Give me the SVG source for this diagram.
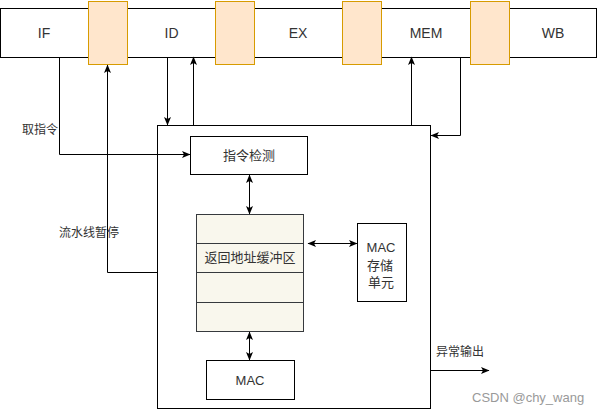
<svg xmlns="http://www.w3.org/2000/svg" width="598" height="411" viewBox="0 0 598 411">
<defs>
<marker id="ah" markerWidth="9" markerHeight="8" refX="8" refY="4" orient="auto-start-reverse" markerUnits="userSpaceOnUse">
<path d="M0,0.5 L8.5,4 L0,7.5 L2,4 z" fill="#000"/>
</marker>
<style>
.box{fill:#fff;stroke:#000;stroke-width:1}
.reg{fill:#ffe6cc;stroke:#d79b00;stroke-width:1}
.buf{fill:#f9f7ed;stroke:#36393d;stroke-width:1}
.lat{font-family:"Liberation Sans",Arial,sans-serif;fill:#333}
.cjk{font-family:"Liberation Sans","Noto Sans CJK SC",sans-serif;fill:#333}
.ln{fill:none;stroke:#000;stroke-width:1}
</style>
</defs>
<g id="pipeline">
<rect class="box" x="0.5" y="8.5" width="596" height="49"/>
<text class="lat" x="44" y="38" font-size="14" text-anchor="middle">IF</text>
<text class="lat" x="171.5" y="38" font-size="14" text-anchor="middle">ID</text>
<text class="lat" x="298" y="38" font-size="14" text-anchor="middle">EX</text>
<text class="lat" x="426" y="38" font-size="14" text-anchor="middle">MEM</text>
<text class="lat" x="553" y="38" font-size="14" text-anchor="middle">WB</text>
</g>
<g id="reg1"><rect class="reg" x="88.5" y="1.5" width="39" height="63"/></g>
<g id="reg2"><rect class="reg" x="215.5" y="1.5" width="39" height="63"/></g>
<g id="reg3"><rect class="reg" x="342.5" y="1.5" width="39" height="63"/></g>
<g id="reg4"><rect class="reg" x="470.5" y="1.5" width="39" height="63"/></g>
<g id="unit"><rect class="box" x="157.5" y="125.5" width="273" height="283"/></g>
<g id="detect">
<rect class="box" x="190.5" y="136.5" width="117" height="38"/>
<text class="cjk" x="249" y="160" font-size="13" text-anchor="middle">指令检测</text>
</g>
<g id="buffer">
<rect class="buf" x="196.5" y="214.5" width="107" height="117"/>
<line x1="196.5" y1="243.5" x2="303.5" y2="243.5" stroke="#36393d"/>
<line x1="196.5" y1="272.5" x2="303.5" y2="272.5" stroke="#36393d"/>
<line x1="196.5" y1="302.5" x2="303.5" y2="302.5" stroke="#36393d"/>
<text class="cjk" x="250" y="262" font-size="13" text-anchor="middle">返回地址缓冲区</text>
</g>
<g id="macstore">
<rect class="box" x="357.5" y="223.5" width="49" height="78"/>
<text class="cjk" x="381" y="252" font-size="13" text-anchor="middle">MAC</text>
<text class="cjk" x="380" y="270" font-size="13" text-anchor="middle">存储</text>
<text class="cjk" x="381" y="287" font-size="13" text-anchor="middle">单元</text>
</g>
<g id="mac">
<rect class="box" x="206.5" y="360.5" width="88" height="39"/>
<text class="lat" x="250" y="385" font-size="13" text-anchor="middle">MAC</text>
</g>
<g id="connectors">
<path class="ln" d="M59.5,57 V154.5 H190" marker-end="url(#ah)"/>
<path class="ln" d="M157,272.5 H107.5 V65" marker-end="url(#ah)"/>
<path class="ln" d="M167.5,57 V125" marker-end="url(#ah)"/>
<path class="ln" d="M193.5,125 V57" marker-end="url(#ah)"/>
<path class="ln" d="M411.5,125 V57" marker-end="url(#ah)"/>
<path class="ln" d="M460.5,57 V135.5 H431" marker-end="url(#ah)"/>
<path class="ln" d="M249.5,175 V214" marker-start="url(#ah)" marker-end="url(#ah)"/>
<path class="ln" d="M308,243.5 H357" marker-start="url(#ah)" marker-end="url(#ah)"/>
<path class="ln" d="M249.5,332 V360" marker-start="url(#ah)" marker-end="url(#ah)"/>
<path class="ln" d="M430,370.5 H489" marker-end="url(#ah)"/>
<text class="cjk" x="22" y="134" font-size="12">取指令</text>
<text class="cjk" x="59" y="237" font-size="12">流水线暂停</text>
<text class="cjk" x="436" y="356" font-size="12">异常输出</text>
</g>
<text x="472" y="402" font-size="13" font-family="Liberation Sans,Arial,sans-serif" fill="#999">CSDN @chy_wang</text>
</svg>
